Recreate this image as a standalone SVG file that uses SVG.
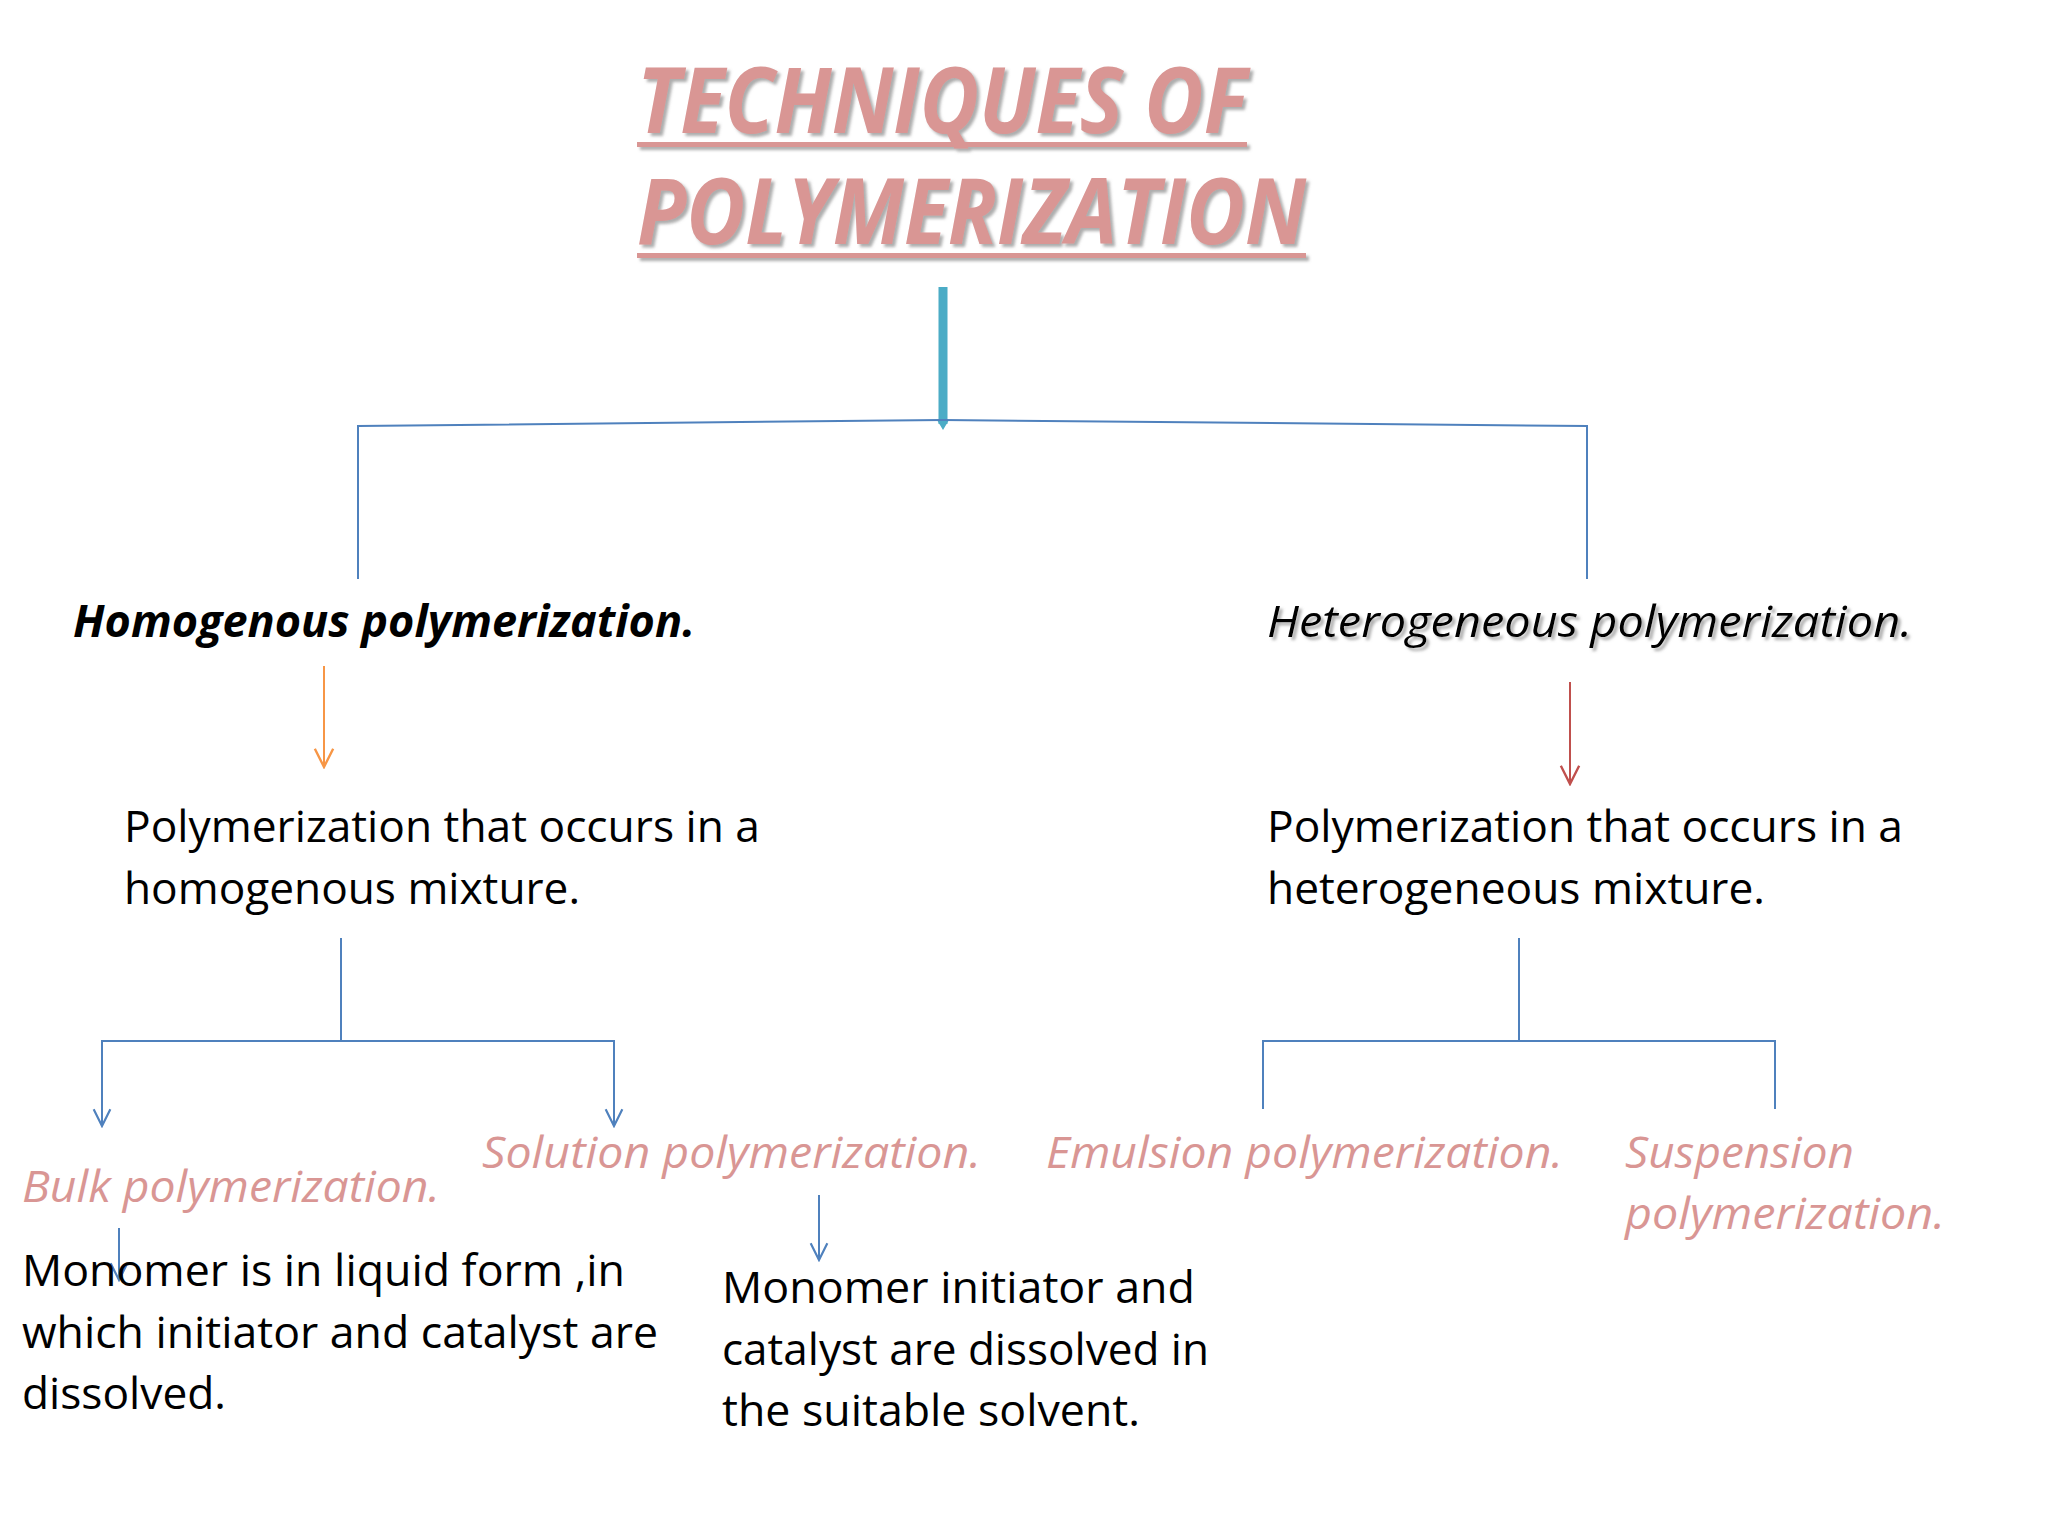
<svg xmlns="http://www.w3.org/2000/svg" width="2048" height="1536" viewBox="0 0 2048 1536">
<defs>
<style>
text{font-family:"Open Sans","Liberation Sans",sans-serif}
.t{font-size:92px;font-weight:bold;font-style:italic;fill:#D99694}
.h{font-size:44px;font-style:italic}
.b{font-size:44px;fill:#000}
.p{font-size:44px;font-style:italic;fill:#D99694}
.c{fill:none;stroke:#4F81BD;stroke-width:2}
</style>
<filter id="sh" x="-5%" y="-20%" width="110%" height="140%"><feDropShadow dx="3" dy="3" stdDeviation="1.5" flood-color="#777" flood-opacity="0.6"/></filter>
<marker id="ab" viewBox="0 0 12 12" refX="11" refY="6" markerWidth="20" markerHeight="20" markerUnits="userSpaceOnUse" orient="auto-start-reverse"><path d="M1 1 L11 6 L1 11" fill="none" stroke="#4F81BD" stroke-width="1.3"/></marker>
<marker id="ao" viewBox="0 0 12 12" refX="11" refY="6" markerWidth="22" markerHeight="22" markerUnits="userSpaceOnUse" orient="auto"><path d="M1 1 L11 6 L1 11" fill="none" stroke="#F79646" stroke-width="1.3"/></marker>
<marker id="ar" viewBox="0 0 12 12" refX="11" refY="6" markerWidth="22" markerHeight="22" markerUnits="userSpaceOnUse" orient="auto"><path d="M1 1 L11 6 L1 11" fill="none" stroke="#C0504D" stroke-width="1.3"/></marker>
</defs>
<rect width="2048" height="1536" fill="#fff"/>
<g id="title" filter="url(#sh)">
<text x="637" y="133" class="t" textLength="610" lengthAdjust="spacingAndGlyphs">TECHNIQUES OF</text>
<rect x="637" y="142" width="610" height="5" fill="#D99694"/>
<text x="637" y="244" class="t" textLength="669" lengthAdjust="spacingAndGlyphs">POLYMERIZATION</text>
<rect x="637" y="253" width="669" height="5" fill="#D99694"/>
</g>
<g id="connectors">
<line x1="943" y1="287" x2="943" y2="424" stroke="#4BACC6" stroke-width="9"/>
<path d="M937 420 L943 430 L949 420 Z" fill="#4BACC6"/>
<polyline class="c" points="358,579 358,426 943,420 1587,426 1587,579"/>
<line x1="324" y1="666" x2="324" y2="767" stroke="#F79646" stroke-width="2" marker-end="url(#ao)"/>
<line x1="1570" y1="682" x2="1570" y2="784" stroke="#C0504D" stroke-width="2" marker-end="url(#ar)"/>
<line class="c" x1="341" y1="938" x2="341" y2="1041"/>
<polyline class="c" points="102,1126 102,1041 614,1041 614,1126" marker-start="url(#ab)" marker-end="url(#ab)"/>
<line class="c" x1="1519" y1="938" x2="1519" y2="1041"/>
<polyline class="c" points="1263,1109 1263,1041 1775,1041 1775,1109"/>
<line class="c" x1="119" y1="1228" x2="119" y2="1280" marker-end="url(#ab)"/>
<line class="c" x1="819" y1="1195" x2="819" y2="1260" marker-end="url(#ab)"/>
</g>
<g id="homo"><text x="73" y="637" class="h" font-weight="bold" textLength="622" lengthAdjust="spacingAndGlyphs">Homogenous polymerization.</text></g>
<g id="hetero" filter="url(#sh)">
<text x="1267" y="637" class="h" fill="#000" textLength="645" lengthAdjust="spacingAndGlyphs">Heterogeneous polymerization.</text>
</g>
<g id="homo-def">
<text x="124" y="842" class="b" textLength="636" lengthAdjust="spacingAndGlyphs">Polymerization that occurs in a</text>
<text x="124" y="904" class="b" textLength="456" lengthAdjust="spacingAndGlyphs">homogenous mixture.</text>
</g>
<g id="hetero-def">
<text x="1267" y="842" class="b" textLength="636" lengthAdjust="spacingAndGlyphs">Polymerization that occurs in a</text>
<text x="1267" y="904" class="b" textLength="498" lengthAdjust="spacingAndGlyphs">heterogeneous mixture.</text>
</g>
<g id="bulk"><text x="22" y="1202" class="p" textLength="418" lengthAdjust="spacingAndGlyphs">Bulk polymerization.</text></g>
<g id="solution"><text x="482" y="1168" class="p" textLength="499" lengthAdjust="spacingAndGlyphs">Solution polymerization.</text></g>
<g id="emulsion"><text x="1046" y="1168" class="p" textLength="517" lengthAdjust="spacingAndGlyphs">Emulsion polymerization.</text></g>
<g id="suspension">
<text x="1625" y="1168" class="p" textLength="229" lengthAdjust="spacingAndGlyphs">Suspension</text>
<text x="1625" y="1229" class="p" textLength="320" lengthAdjust="spacingAndGlyphs">polymerization.</text>
</g>
<g id="bulk-def">
<text x="22" y="1286" class="b" textLength="603" lengthAdjust="spacingAndGlyphs">Monomer is in liquid form ,in</text>
<text x="22" y="1348" class="b" textLength="636" lengthAdjust="spacingAndGlyphs">which initiator and catalyst are</text>
<text x="22" y="1409" class="b" textLength="204" lengthAdjust="spacingAndGlyphs">dissolved.</text>
</g>
<g id="solution-def">
<text x="722" y="1303" class="b" textLength="473" lengthAdjust="spacingAndGlyphs">Monomer initiator and</text>
<text x="722" y="1365" class="b" textLength="487" lengthAdjust="spacingAndGlyphs">catalyst are dissolved in</text>
<text x="722" y="1426" class="b" textLength="418" lengthAdjust="spacingAndGlyphs">the suitable solvent.</text>
</g>
</svg>
